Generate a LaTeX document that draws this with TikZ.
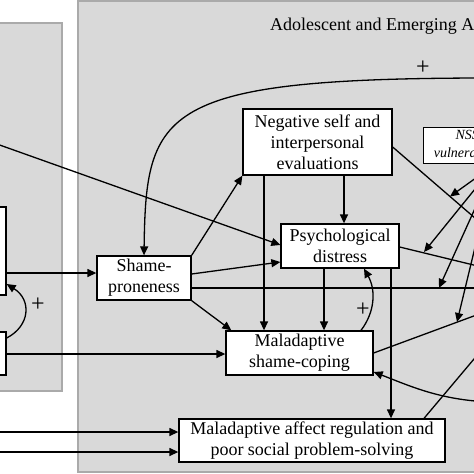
\documentclass[tikz,border=0pt]{standalone}
\usepackage{fontspec}
\setmainfont{Liberation Serif}
\usetikzlibrary{arrows.meta}
\definecolor{panelgray}{RGB}{217,217,217}
\definecolor{panelborder}{RGB}{170,170,170}
\newcommand{\mainsz}{\fontsize{18}{21}\selectfont}
\newcommand{\plussz}{\fontsize{24}{24}\selectfont}
\newcommand{\nssisz}{\fontsize{14}{18}\selectfont\itshape}
\tikzset{
  box/.style={draw=black, fill=white, line width=1.3pt, inner sep=0pt, align=center, font=\mainsz},
  arr/.style={-{Triangle[length=9pt,width=8pt]}, line width=1.3pt},
  ln/.style={line width=1.3pt},
  panel/.style={fill=panelgray, draw=panelborder, line width=1.4pt},
  plus/.style={font=\plussz, inner sep=0pt}
}
\begin{document}
\begin{tikzpicture}[x=1pt,y=-1pt]
\useasboundingbox (0,0) rectangle (474,474);
\clip (0,0) rectangle (474,474);
\fill[white] (0,0) rectangle (474,474);
% panels
\draw[panel] (-10,23) rectangle (62,391);
\draw[panel] (78,1) rectangle (500,472);
\node[anchor=west, font=\mainsz, inner sep=0pt] (title) at (270,26) {Adolescent and Emerging A};
% nodes
\node[box, minimum width=40, minimum height=88] (L1) at (-14,251) {};
\node[box, minimum width=40, minimum height=43] (L2) at (-14,353.5) {};
\node[box, minimum width=94, minimum height=44] (Shame) at (144,278) {Shame-\\proneness};
\node[box, minimum width=149, minimum height=66] (Neg) at (317.5,142) {Negative self and\\interpersonal\\evaluations};
\node[box, minimum width=118, minimum height=44] (Psych) at (340,246) {Psychological\\distress};
\node[box, minimum width=147, minimum height=44] (Coping) at (299.5,353) {Maladaptive\\shame-coping};
\node[box, minimum width=266, minimum height=43] (Affect) at (312,440.5) {Maladaptive affect regulation and\\poor social problem-solving};
\node[box, font=\nssisz, minimum width=92, minimum height=36, anchor=north west] (NSSI) at (423,127) {NSSI\\vulnerability};
% off-picture ends
\coordinate (srcA) at (-20,138);
\coordinate (srcB) at (-10,432);
\coordinate (srcC) at (-10,452);
\coordinate (inT) at (490,78);
\coordinate (outS) at (490,288);
\coordinate (outN) at (490,231);
\coordinate (outP) at (490,269);
\coordinate (outC) at (490,310);
\coordinate (outA) at (490,340);
\coordinate (inC) at (490,402);
\coordinate (mod) at (NSSI.south -| 495,0);
\coordinate (ta) at (450,196.5);
\coordinate (tb) at (424,252);
\coordinate (tc) at (439,288);
\coordinate (td) at (457,322);
% connectors
\draw[arr] (L1.east |- 0,273) -- (Shame.west |- 0,273);
\draw[arr] (L2.east |- 0,354) -- (Coping.west |- 0,354);
\draw[arr] (L2.east |- 0,338) .. controls (30,326) and (32,300) .. (L1.east |- 0,284);
\node[plus] (p1) at (38,305) {+};
\draw[arr] (srcA) -- (Psych.west |- 0,245);
\draw[arr] (inT) .. controls (160,78) and (146,110) .. (Shame.north);
\node[plus] (p2) at (423,68) {+};
\draw[arr] (Shame.north east) -- (Neg.south west);
\draw[arr] (Shame.east |- 0,274) -- (Psych.west |- 0,262);
\draw[ln] (Shame.east |- 0,288) -- (outS);
\draw[arr] (Shame.south east) -- ([xshift=6pt]Coping.north west);
\draw[arr] (Neg.south -| 344,0) -- (Psych.north -| 344,0);
\draw[arr] (Neg.south -| 264,0) -- (Coping.north -| 264,0);
\draw[arr] (Psych.south -| 324,0) -- (Coping.north -| 324,0);
\draw[arr] (Psych.south -| 391,0) -- (Affect.north -| 391,0);
\draw[arr] (Coping.north -| 361,0) .. controls (375,312) and (376,290) .. (Psych.south -| 364,0);
\node[plus] (p3) at (363,310) {+};
\draw[arr] (srcB) -- (Affect.west |- 0,432);
\draw[arr] (srcC) -- (Affect.west |- 0,452);
\draw[ln] (Neg.east |- 0,147) -- (outN);
\draw[ln] (Psych.east |- 0,247) -- (outP);
\draw[ln] (Coping.east |- 0,353) -- (outC);
\draw[ln] (Affect.north -| 424,0) -- (outA);
\draw[arr] (inC) .. controls (440,400) and (410,386) .. (Coping.east |- 0,372);
\draw[arr] (mod) -- (ta);
\draw[arr] (mod) -- (tb);
\draw[arr] (mod) -- (tc);
\draw[arr] (mod) -- (td);
\end{tikzpicture}
\end{document}
